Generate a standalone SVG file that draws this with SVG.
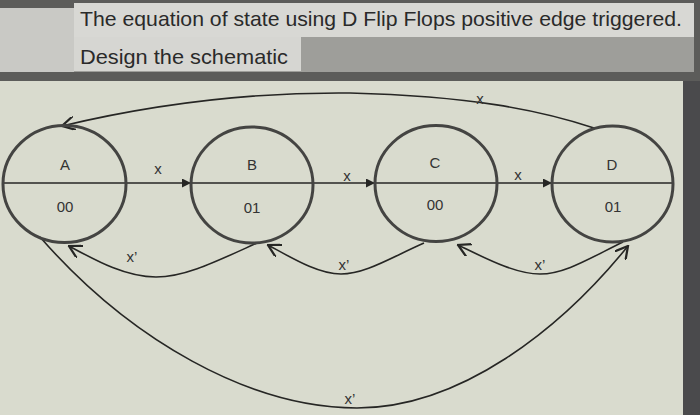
<svg xmlns="http://www.w3.org/2000/svg" width="700" height="415" viewBox="0 0 700 415">
<style>
.st{fill:none;stroke:#444442;stroke-width:3}
.ln{fill:none;stroke:#262624;stroke-width:1.6}
.lb{font-family:"Liberation Sans",Arial,sans-serif;font-size:15px;fill:#333;text-anchor:middle}
.ttl{font-family:"Liberation Sans",Arial,sans-serif;font-size:21px;fill:#2a2a2a}
</style>
<defs>
<marker id="fa" viewBox="0 0 10 10" refX="10" refY="5" markerWidth="9" markerHeight="9" markerUnits="userSpaceOnUse" orient="auto"><path d="M0,0 L10,5 L0,10 z" fill="#262624"/></marker>
<marker id="oa" viewBox="0 0 10 10" refX="9" refY="5" markerWidth="14" markerHeight="14" markerUnits="userSpaceOnUse" orient="auto"><path d="M0,0 L9,5 L0,10" fill="none" stroke="#262624" stroke-width="1.6"/></marker>
</defs>
<rect width="700" height="415" fill="#5c5c5a"/>
<rect x="0" y="8" width="74" height="64" fill="#c9c9c5"/>
<rect x="74" y="37" width="620" height="35" fill="#9e9e9a"/>
<rect x="74" y="3" width="620" height="34" fill="#d8d8d4"/>
<rect x="74" y="37" width="227" height="34" fill="#d6d6d2"/>
<rect x="0" y="81" width="683" height="334" fill="#d9dbce"/>
<rect x="683" y="81" width="17" height="334" fill="#4a4a4c"/>
<text class="ttl" x="80" y="26" textLength="602" lengthAdjust="spacingAndGlyphs">The equation of state using D Flip Flops positive edge triggered.</text>
<text class="ttl" x="80" y="64" textLength="208" lengthAdjust="spacingAndGlyphs">Design the schematic</text>
<g id="connectors">
<line class="ln" x1="3" y1="183" x2="126" y2="183"/>
<line class="ln" x1="126" y1="183" x2="191" y2="183" marker-end="url(#fa)"/>
<line class="ln" x1="191" y1="183" x2="313" y2="183"/>
<line class="ln" x1="313" y1="183" x2="375" y2="183" marker-end="url(#fa)"/>
<line class="ln" x1="375" y1="183" x2="497" y2="183"/>
<line class="ln" x1="497" y1="183" x2="552" y2="183" marker-end="url(#fa)"/>
<line class="ln" x1="552" y1="183" x2="673" y2="183"/>
<path class="ln" d="M594,128 C540,110 470,96 350,93 C250,92 150,105 62,126" marker-end="url(#oa)"/>
<path class="ln" d="M257,243 C215,262 185,277 156,277 C125,277 95,260 69,246" marker-end="url(#oa)"/>
<path class="ln" d="M424,243 C390,258 365,274 341,274 C318,274 292,258 268,245" marker-end="url(#oa)"/>
<path class="ln" d="M623,242 C590,258 565,274 540,274 C515,274 485,258 458,245" marker-end="url(#oa)"/>
<path class="ln" d="M40,237 C130,340 250,408 357,408 C460,408 560,330 628,246" marker-end="url(#oa)"/>
<text class="lb" x="158" y="174">x</text>
<text class="lb" x="347" y="181">x</text>
<text class="lb" x="518" y="180">x</text>
<text class="lb" x="480" y="104">x</text>
<text class="lb" x="132" y="262">x’</text>
<text class="lb" x="344" y="270">x’</text>
<text class="lb" x="540" y="270">x’</text>
<text class="lb" x="350" y="404">x’</text>
</g>
<g id="A"><ellipse class="st" cx="64.5" cy="184" rx="61.5" ry="58.5"/><text class="lb" x="65" y="170">A</text><text class="lb" x="65" y="212">00</text></g>
<g id="B"><ellipse class="st" cx="252" cy="185" rx="61" ry="58"/><text class="lb" x="252" y="170">B</text><text class="lb" x="252" y="213">01</text></g>
<g id="C"><ellipse class="st" cx="436" cy="183.5" rx="61" ry="58"/><text class="lb" x="435" y="168">C</text><text class="lb" x="435" y="210">00</text></g>
<g id="D"><ellipse class="st" cx="612.5" cy="184" rx="60.5" ry="58"/><text class="lb" x="612" y="170">D</text><text class="lb" x="613" y="212">01</text></g>
</svg>
